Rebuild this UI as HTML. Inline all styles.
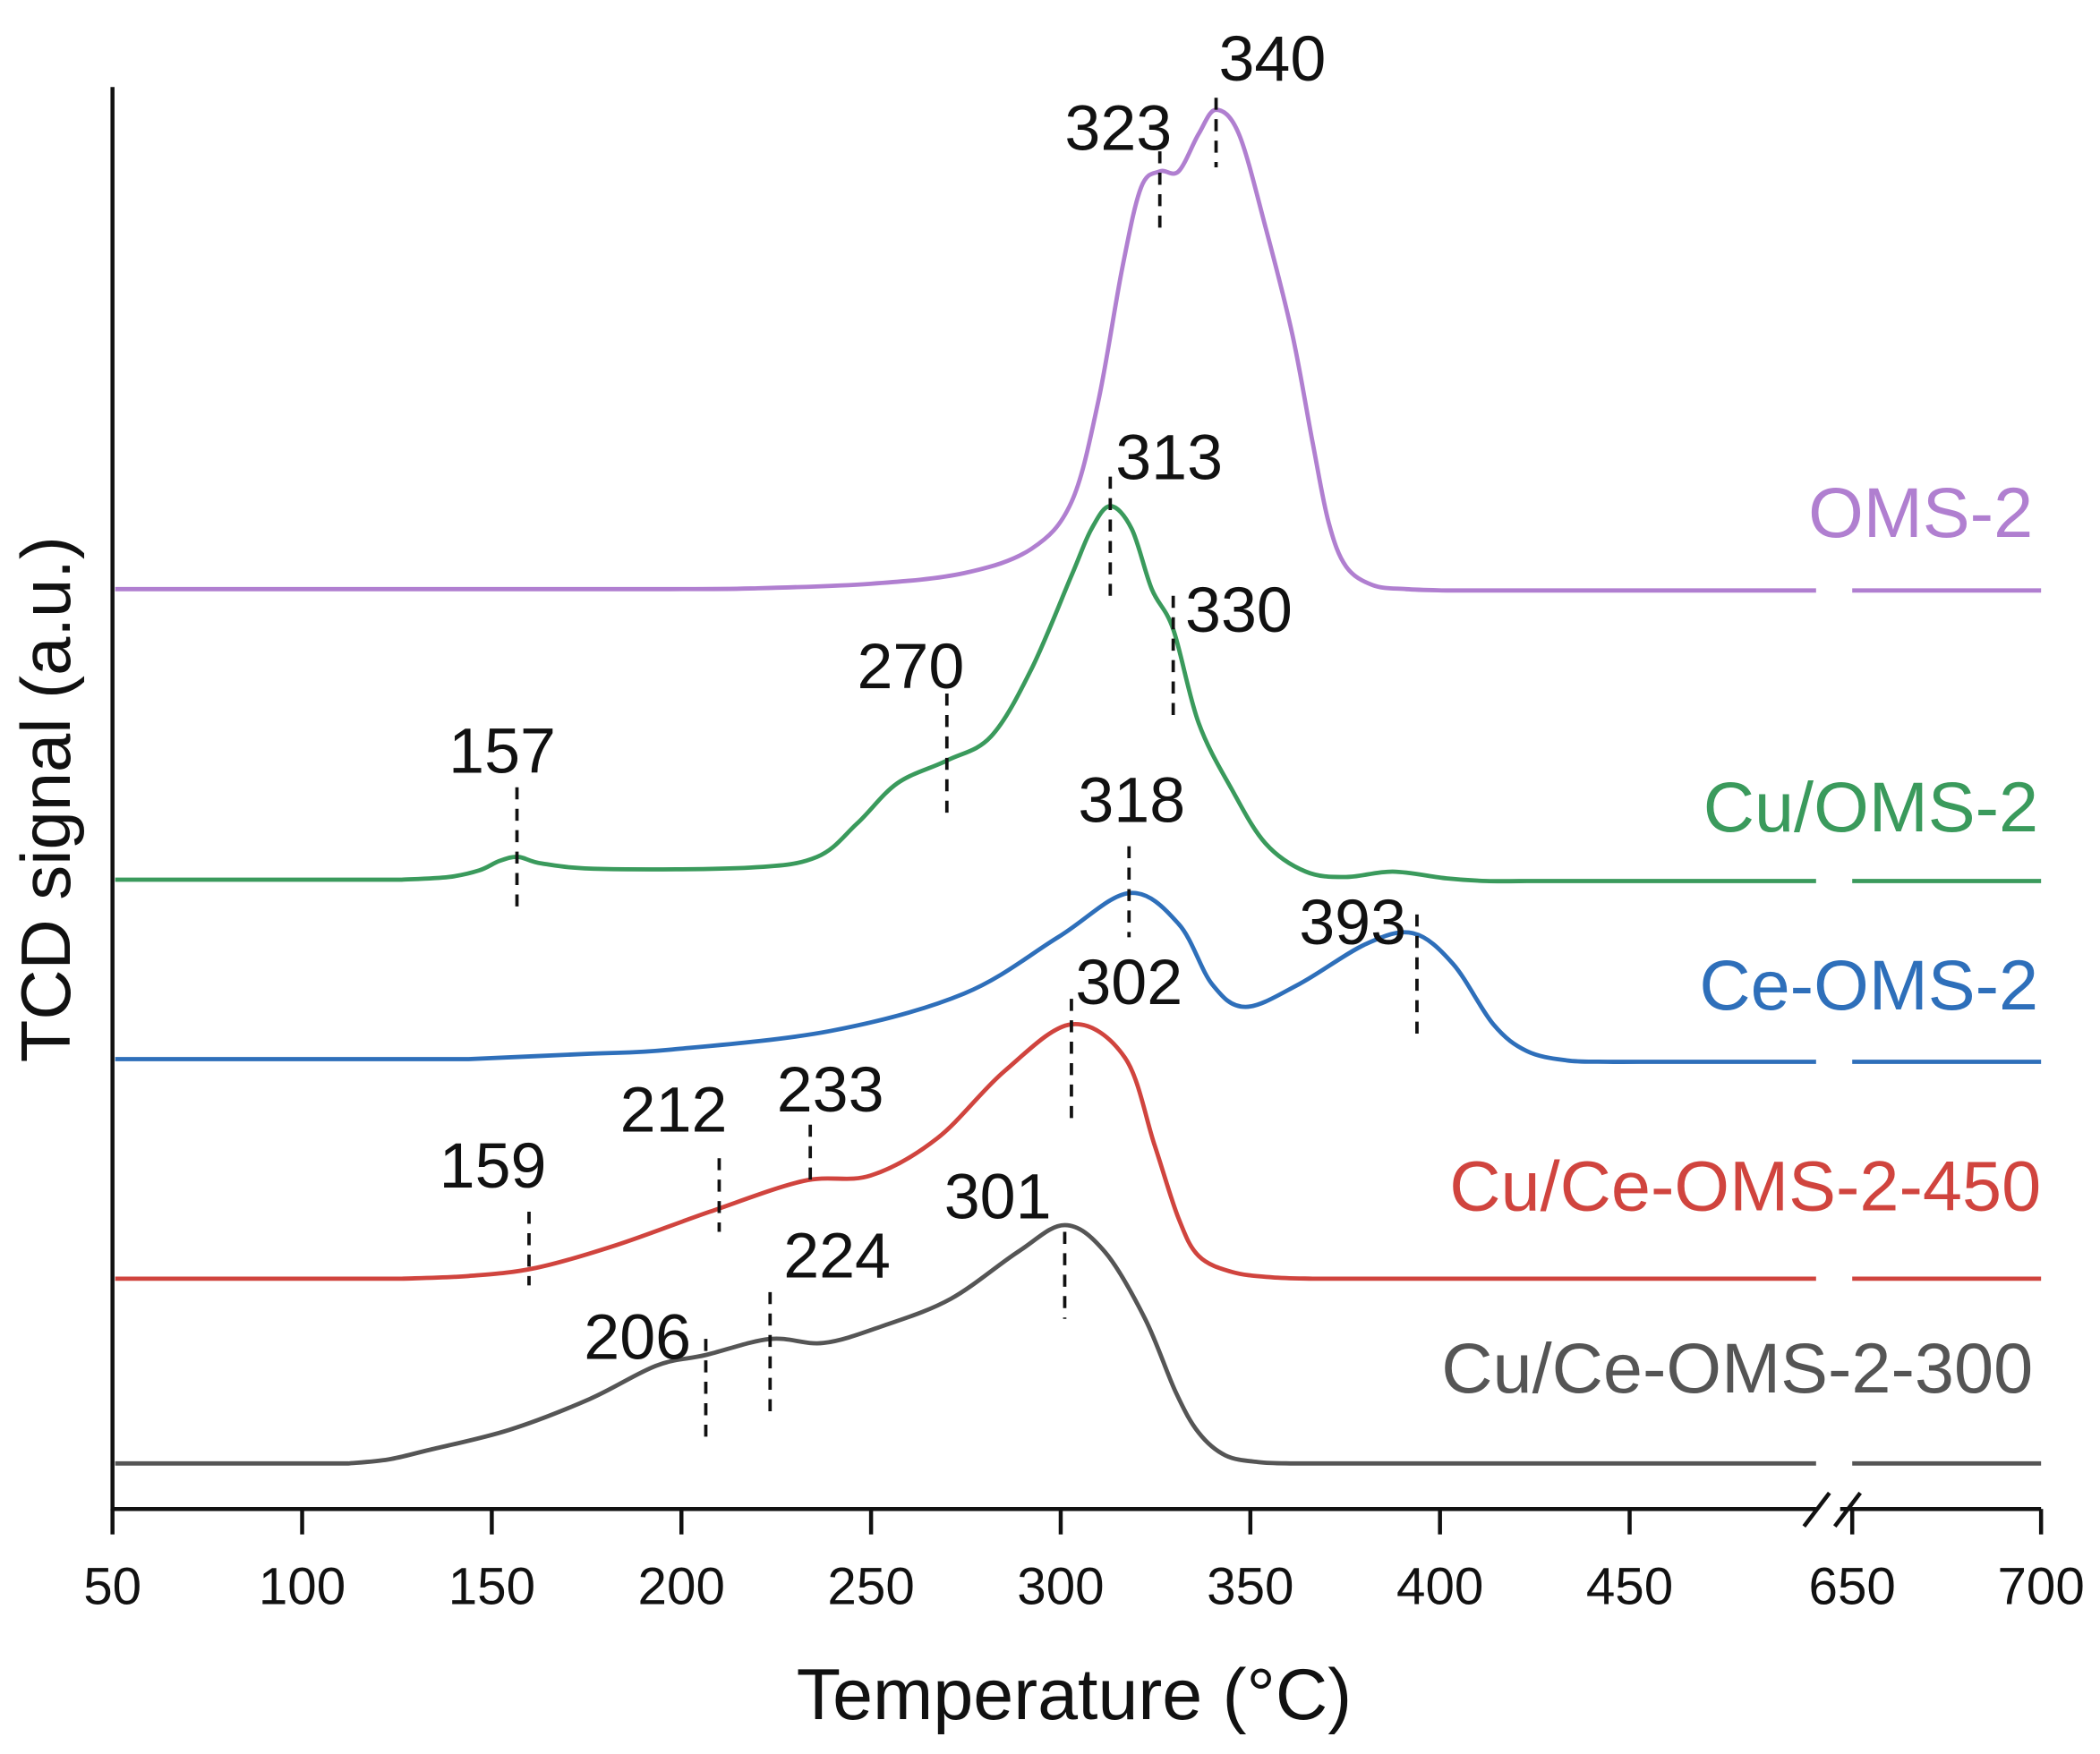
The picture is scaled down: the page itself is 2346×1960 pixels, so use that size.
<!DOCTYPE html>
<html><head><meta charset="utf-8"><style>
html,body{margin:0;padding:0;background:#fff;}
svg{display:block;}
text{font-family:"Liberation Sans",Arial,sans-serif;}
</style></head><body>
<svg id="s" width="2346" height="1960" viewBox="0 0 1568 1310" preserveAspectRatio="none" xmlns="http://www.w3.org/2000/svg">
<rect width="1568" height="1310" fill="#fff"/>
<g id="curves" fill="none" stroke-width="3.2" stroke-linejoin="round" stroke-linecap="butt"></g>
<g stroke="#111" stroke-width="3" fill="none">
<line x1="84" y1="65" x2="84" y2="1128"/>
<line x1="84" y1="1127" x2="1356" y2="1127"/>
<line x1="1374" y1="1127" x2="1524" y2="1127"/>
<line x1="1524" y1="1127" x2="1524" y2="1146"/>
<line x1="1383" y1="1127" x2="1383" y2="1146"/>
<line x1="1347" y1="1140" x2="1366" y2="1115"/>
<line x1="1370" y1="1140" x2="1389" y2="1115"/>
</g>
<g id="ticks" stroke="#111" stroke-width="3"></g>
<g font-size="39" fill="#111" text-anchor="middle" id="tl"></g>
<text x="802" y="1284" font-size="54" text-anchor="middle" fill="#111">Temperature (°C)</text>
<text transform="translate(52,597) rotate(-90)" font-size="52" text-anchor="middle" fill="#111">TCD signal (a.u.)</text>
<g font-size="53" text-anchor="end">
<text x="1518" y="401" fill="#b07fd0">OMS-2</text>
<text x="1522" y="621" fill="#3a9a5c">Cu/OMS-2</text>
<text x="1522" y="754" fill="#2e6fba">Ce-OMS-2</text>
<text x="1524" y="904" fill="#d0443e">Cu/Ce-OMS-2-450</text>
<text x="1518" y="1040" fill="#555">Cu/Ce-OMS-2-300</text>
</g>
<g font-size="48" fill="#111" text-anchor="middle">
<text x="950" y="60">340</text><text x="835" y="112">323</text>
<text x="873" y="358">313</text><text x="925" y="472">330</text>
<text x="680" y="514">270</text><text x="375" y="577">157</text>
<text x="845" y="614">318</text><text x="1010" y="705">393</text>
<text x="843" y="750">302</text><text x="620" y="830">233</text>
<text x="503" y="845">212</text><text x="368" y="887">159</text>
<text x="745" y="910">301</text><text x="625" y="954">224</text>
<text x="476" y="1015">206</text>
</g>
<g stroke="#111" stroke-width="2.5" stroke-dasharray="9,7">
<line x1="866" y1="113" x2="866" y2="175"/>
<line x1="908" y1="73" x2="908" y2="125"/>
<line x1="829" y1="356" x2="829" y2="450"/>
<line x1="876" y1="445" x2="876" y2="535"/>
<line x1="707" y1="518" x2="707" y2="610"/>
<line x1="386" y1="588" x2="386" y2="680"/>
<line x1="843" y1="632" x2="843" y2="700"/>
<line x1="1058" y1="683" x2="1058" y2="775"/>
<line x1="800" y1="746" x2="800" y2="840"/>
<line x1="605" y1="840" x2="605" y2="885"/>
<line x1="537" y1="865" x2="537" y2="920"/>
<line x1="395" y1="905" x2="395" y2="960"/>
<line x1="795" y1="920" x2="795" y2="985"/>
<line x1="575" y1="965" x2="575" y2="1055"/>
<line x1="527" y1="1000" x2="527" y2="1078"/>
</g>
</svg>
<script>
var NS="http://www.w3.org/2000/svg";
function el(p,t,a){var e=document.createElementNS(NS,t);for(var k in a)e.setAttribute(k,a[k]);p.appendChild(e);return e;}
var ticks=document.getElementById("ticks"),tl=document.getElementById("tl");
for(var t=50;t<=450;t+=50){var x=84+(t-50)*2.832;el(ticks,"line",{x1:x,y1:1127,x2:x,y2:1146});var tx=el(tl,"text",{x:x,y:1198});tx.textContent=t;}
var a=el(tl,"text",{x:1383,y:1198});a.textContent="650";a=el(tl,"text",{x:1524,y:1198});a.textContent="700";
function cr(p){var d="M"+p[0][0]+","+p[0][1];for(var i=0;i<p.length-1;i++){var p0=p[i-1]||p[i],p1=p[i],p2=p[i+1],p3=p[i+2]||p2;
d+=" C"+(p1[0]+(p2[0]-p0[0])/6)+","+(p1[1]+(p2[1]-p0[1])/6)+" "+(p2[0]-(p3[0]-p1[0])/6)+","+(p2[1]-(p3[1]-p1[1])/6)+" "+p2[0]+","+p2[1];}return d;}
var g=document.getElementById("curves");
var S=[
["#b07fd0",441,86,1356,[[500,440],[560,439.5],[650,436],[720,428],[770,410],[800,375],[820,300],[838,200],[852,140],[866,128],[880,128],[895,100],[908,82],[925,100],[945,170],[965,250],[980,330],[992,390],[1005,423],[1025,437],[1050,440],[1080,441]]],
["#3a9a5c",658,86,1356,[[300,657],[335,655],[358,650],[373,643],[387,640],[405,645],[450,649],[560,648],[610,640],[640,615],[670,585],[707,568],[740,550],[770,500],[800,430],[815,395],[829,378],[845,395],[860,440],[876,470],[895,540],[920,590],[945,630],[975,651],[1005,655],[1040,651],[1080,656],[1110,658],[1140,658]]],
["#2e6fba",793,86,1356,[[350,791],[440,787],[500,784],[620,770],[720,742],[790,700],[843,667],[880,690],[905,735],[930,752],[970,735],[1020,705],[1055,697],[1085,720],[1115,765],[1140,785],[1170,792],[1200,793],[1230,793]]],
["#d0443e",955,86,1356,[[300,955],[350,953],[400,947],[460,930],[530,905],[600,882],[650,878],[700,850],[750,800],[800,765],[840,790],[862,855],[880,910],[895,938],[920,950],[950,954],[980,955]]],
["#555",1093,86,1356,[[260,1093],[290,1090],[320,1083],[380,1068],[440,1045],[490,1020],[527,1012],[575,1000],[615,1003],[660,990],[710,970],[760,935],[795,915],[825,935],[855,985],[878,1040],[895,1070],[915,1087],[940,1092],[965,1093]]]
];
S.forEach(function(s){var p=s[4];var d="M"+s[2]+","+p[0][1]+" L"+cr(p).slice(1)+" L"+s[3]+","+s[1];
el(g,"path",{d:d,stroke:s[0]});el(g,"line",{x1:1383,y1:s[1],x2:1524,y2:s[1],stroke:s[0]});});
</script>
</body></html>
